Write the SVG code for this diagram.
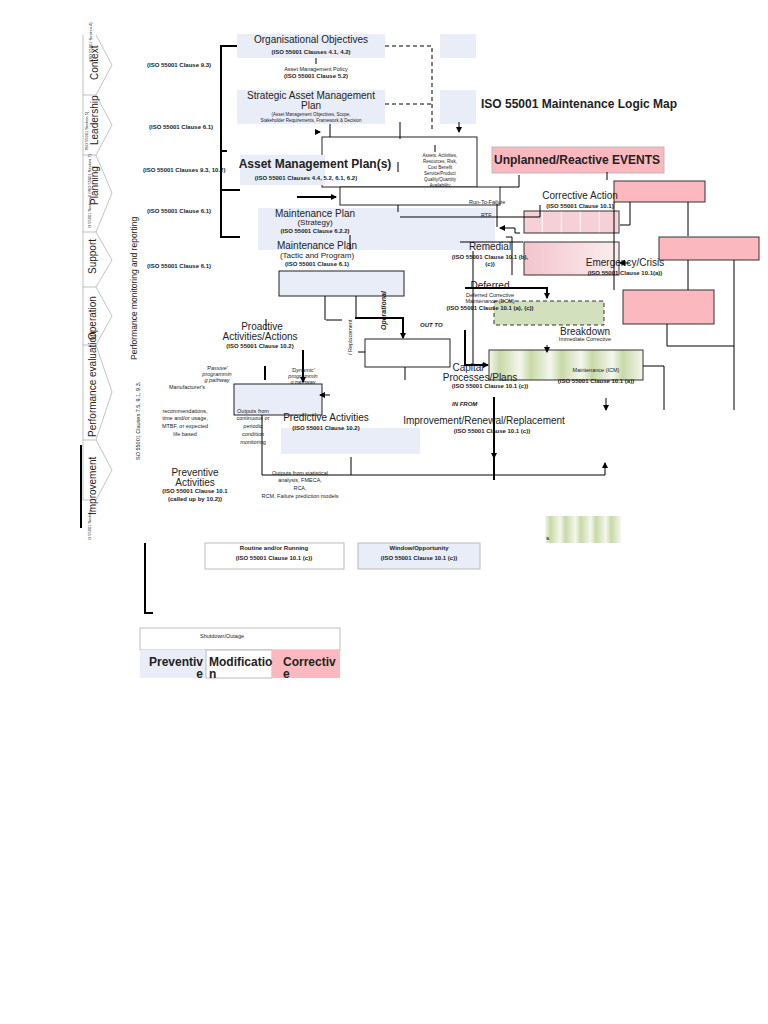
<svg xmlns="http://www.w3.org/2000/svg" width="768" height="1024" viewBox="0 0 768 1024">
<defs>
<marker id="ah" markerWidth="6" markerHeight="6" refX="5" refY="3" orient="auto" markerUnits="userSpaceOnUse"><path d="M0,0L6,3L0,6z" fill="#000"/></marker>
<linearGradient id="pk" x1="0" x2="1"><stop offset="0" stop-color="#f3c4cc"/><stop offset="1" stop-color="#fbeef0"/></linearGradient>
<linearGradient id="gs" x1="0" x2="0.2" spreadMethod="repeat"><stop offset="0" stop-color="#f4f7ee"/><stop offset=".35" stop-color="#c8d9a6"/><stop offset="1" stop-color="#f4f7ee"/></linearGradient>
<linearGradient id="pks" x1="0" x2="0.2" spreadMethod="repeat"><stop offset="0" stop-color="#f6d0d6"/><stop offset=".9" stop-color="#f6d0d6"/><stop offset="1" stop-color="#fff"/></linearGradient>
</defs>
<style>
text{font-family:"Liberation Sans",Arial,sans-serif;fill:#222}
.t{font-size:10px}.b{font-size:6px;font-weight:bold}.s{font-size:5.5px}
.bl{fill:#e8edf7;stroke:none}.w{fill:#fff;stroke:#222;stroke-width:1}
.l{fill:none;stroke:#000;stroke-width:1}.l2{fill:none;stroke:#000;stroke-width:2}
.pk{fill:#fcb8bf;stroke:#333;stroke-width:1}
.ch{fill:none;stroke:#999;stroke-width:.6}
</style>
<rect width="768" height="1024" fill="#fff"/>
<g id="chevrons">
<path class="ch" d="M83,35V500M83,95H96M83,155H96M83,232H96M83,287H96M83,345H96M83,440H96M83,500H96M96,35L112,65L96,95L112,125L96,155L112,193L96,232L112,260L96,287L112,316L96,345L112,392L96,440L112,470L96,500"/>
<line x1="81" y1="445" x2="81" y2="528" stroke="#000" stroke-width="2"/>
<text class="t" transform="translate(98,80) rotate(-90)">Context</text>
<text class="t" transform="translate(98,145) rotate(-90)">Leadership</text>
<text class="t" transform="translate(98,205) rotate(-90)">Planning</text>
<text class="t" transform="translate(96,274) rotate(-90)">Support</text>
<text class="t" transform="translate(96,340) rotate(-90)">Operation</text>
<text class="t" transform="translate(96,437) rotate(-90)">Performance evaluation</text>
<text class="t" transform="translate(96,515) rotate(-90)">Improvement</text>
<text class="s" style="font-size:4px" transform="translate(92,62) rotate(-90)">(ISO 55001 Section 4)</text>
<text class="s" style="font-size:4px" transform="translate(88,150) rotate(-90)">ISO 55001 Section 5)</text>
<text class="s" style="font-size:4px" transform="translate(91,228) rotate(-90)">O 55001 Section 6 (ISO 55001 Section 7)</text>
<text class="s" style="font-size:4px" transform="translate(91,540) rotate(-90)">O 55001 Section</text>
<text class="t" transform="translate(137,360) rotate(-90)" style="font-size:8.5px">Performance monitoring and reporting</text>
<text class="s" transform="translate(140,460) rotate(-90)">SO 55001 Clauses 7.5, 9.1, 9.3,</text>
</g>
<g id="clauses">
<text class="b" x="147" y="67">(ISO 55001 Clause 9.3)</text>
<text class="b" x="149" y="129">(ISO 55001 Clause 6.1)</text>
<text class="b" x="143" y="172">(ISO 55001 Clauses 9.3, 10.2)</text>
<text class="b" x="147" y="213">(ISO 55001 Clause 6.1)</text>
<text class="b" x="147" y="268">(ISO 55001 Clause 6.1)</text>
<path class="l2" d="M240,46H221V237H240M221,151H227M221,190H240"/>
<path class="l2" d="M145,543V613H153"/>
</g>
<g id="n-org"><rect class="bl" x="237" y="34" width="148" height="24"/><text x="311" y="43" text-anchor="middle" class="t">Organisational Objectives</text><text class="b" x="311" y="54" text-anchor="middle">(ISO 55001 Clauses 4.1, 4.2)</text></g>
<rect class="bl" x="440" y="34" width="36" height="24"/>
<text class="s" x="316" y="71" text-anchor="middle">Asset Management Policy</text><text class="b" x="316" y="78" text-anchor="middle">(ISO 55001 Clause 5.2)</text>
<g id="n-samp"><rect class="bl" x="237" y="90" width="148" height="34"/><text x="311" y="99" text-anchor="middle" class="t">Strategic Asset Management</text><text x="311" y="109" text-anchor="middle" class="t">Plan</text><text class="s" x="311" y="116" text-anchor="middle" style="font-size:4.5px">(Asset Management Objectives, Scope,</text><text class="s" x="311" y="122" text-anchor="middle" style="font-size:4.5px">Stakeholder Requirements, Framework &amp; Decision</text></g>
<rect class="bl" x="440" y="90" width="36" height="34"/>
<text x="481" y="108" style="font-size:12px;font-weight:bold">ISO 55001 Maintenance Logic Map</text>
<g id="n-amp"><rect class="w" x="322" y="137" width="155" height="50"/><rect class="bl" x="240" y="155" width="85" height="30"/><text x="315" y="168" text-anchor="middle" style="font-size:12px;font-weight:bold">Asset Management Plan(s)</text><text class="b" x="306" y="180" text-anchor="middle">(ISO 55001 Clauses 4.4, 5.2, 6.1, 6.2)</text>
<text class="s" x="440" y="157" text-anchor="middle" style="font-size:4.5px">Assets, Activities,</text><text class="s" x="440" y="163" text-anchor="middle" style="font-size:4.5px">Resources, Risk,</text><text class="s" x="440" y="169" text-anchor="middle" style="font-size:4.5px">Cost Benefit</text><text class="s" x="440" y="175" text-anchor="middle" style="font-size:4.5px">Service/Product</text><text class="s" x="440" y="181" text-anchor="middle" style="font-size:4.5px">Quality/Quantity</text><text class="s" x="440" y="187" text-anchor="middle" style="font-size:4.5px">Availability</text></g>
<rect class="w" x="340" y="187" width="160" height="18"/>
<g id="n-mps"><rect class="bl" x="258" y="208" width="237" height="42" /><text x="315" y="217" text-anchor="middle" class="t">Maintenance Plan</text><text x="315" y="225" text-anchor="middle" style="font-size:8px">(Strategy)</text><text class="b" x="315" y="233" text-anchor="middle">(ISO 55001 Clause 6.2.2)</text><text x="317" y="249" text-anchor="middle" class="t">Maintenance Plan</text><text x="317" y="258" text-anchor="middle" style="font-size:8px">(Tactic and Program)</text><text class="b" x="317" y="266" text-anchor="middle">(ISO 55001 Clause 6.1)</text></g>
<g id="n-unp"><rect class="pk" x="492" y="147" width="172" height="26" style="stroke:#bbb"/><text x="577" y="164" text-anchor="middle" style="font-size:12px;font-weight:bold">Unplanned/Reactive EVENTS</text></g>
<rect class="pk" x="614" y="181" width="91" height="21"/>
<rect class="pk" x="659" y="237" width="100" height="23"/>
<rect class="pk" x="623" y="290" width="91" height="34"/>
<g id="n-corr"><rect x="524" y="211" width="95" height="22" fill="url(#pks)" stroke="#333"/><text x="580" y="199" text-anchor="middle" class="t">Corrective Action</text><text class="b" x="580" y="208" text-anchor="middle">(ISO 55001 Clause 10.1)</text></g>
<g id="n-rem"><rect x="524" y="242" width="95" height="33" fill="url(#pk)" stroke="#333"/><text x="490" y="250" text-anchor="middle" class="t">Remedial</text><text class="b" x="490" y="259" text-anchor="middle">(ISO 55001 Clause 10.1 (b),</text><text class="b" x="490" y="266" text-anchor="middle">(c))</text><text x="625" y="266" text-anchor="middle" class="t">Emergency/Crisis</text><text class="b" x="625" y="275" text-anchor="middle">(ISO 55001 Clause 10.1(a))</text></g>
<g id="n-def"><rect x="494" y="301" width="110" height="24" fill="#d3e0bd" stroke="#333" stroke-dasharray="4,3"/><text x="490" y="289" text-anchor="middle" class="t">Deferred</text><text class="s" x="490" y="297" text-anchor="middle">Deferred Corrective</text><text class="s" x="490" y="303" text-anchor="middle">Maintenance (DCM)</text><text class="b" x="490" y="310" text-anchor="middle">(ISO 55001 Clause 10.1 (a), (c))</text></g>
<g id="n-bd"><rect x="489" y="350" width="154" height="30" fill="url(#gs)" stroke="#333"/><text x="585" y="335" text-anchor="middle" class="t">Breakdown</text><text class="s" x="585" y="341" text-anchor="middle">Immediate Corrective</text><text class="s" x="596" y="372" text-anchor="middle">Maintenance (ICM)</text><text class="b" x="596" y="383" text-anchor="middle">(ISO 55001 Clause 10.1 (a))</text></g>
<rect class="bl" x="279" y="271" width="125" height="25" style="stroke:#222"/>
<rect class="w" x="365" y="339" width="85" height="28"/>
<g id="n-pro"><text x="262" y="330" text-anchor="middle" class="t">Proactive</text><text x="260" y="340" text-anchor="middle" class="t">Activities/Actions</text><text class="b" x="260" y="348" text-anchor="middle">(ISO 55001 Clause 10.2)</text></g>
<text class="s" x="217" y="370" text-anchor="middle" style="font-style:italic">'Passive'</text><text class="s" x="217" y="376" text-anchor="middle" style="font-style:italic">programmin</text><text class="s" x="217" y="382" text-anchor="middle" style="font-style:italic">g pathway</text>
<text class="s" x="303" y="372" text-anchor="middle" style="font-style:italic">'Dynamic'</text><text class="s" x="303" y="378" text-anchor="middle" style="font-style:italic">programmin</text><text class="s" x="303" y="384" text-anchor="middle" style="font-style:italic">g pathway</text>
<text class="s" x="187" y="389" text-anchor="middle">Manufacturer's</text>
<text class="s" x="185" y="413" text-anchor="middle">recommendations,</text><text class="s" x="185" y="420" text-anchor="middle">time and/or usage,</text><text class="s" x="185" y="428" text-anchor="middle">MTBF, or expected</text><text class="s" x="185" y="436" text-anchor="middle">life based</text>
<g id="n-pred"><rect class="bl" x="234" y="384" width="88" height="31" style="stroke:#222"/><rect class="bl" x="281" y="428" width="139" height="26"/><text x="326" y="421" text-anchor="middle" class="t">Predictive Activities</text><text class="b" x="326" y="430" text-anchor="middle">(ISO 55001 Clause 10.2)</text>
<text class="s" x="253" y="413" text-anchor="middle">Outputs from</text><text class="s" x="253" y="420" text-anchor="middle">continuous or</text><text class="s" x="253" y="428" text-anchor="middle">periodic</text><text class="s" x="253" y="436" text-anchor="middle">condition</text><text class="s" x="253" y="444" text-anchor="middle">monitoring</text></g>
<g id="n-prev"><text x="195" y="476" text-anchor="middle" class="t">Preventive</text><text x="195" y="486" text-anchor="middle" class="t">Activities</text><text class="b" x="195" y="493" text-anchor="middle">(ISO 55001 Clause 10.1</text><text class="b" x="195" y="501" text-anchor="middle">(called up by 10.2))</text></g>
<text class="s" x="300" y="475" text-anchor="middle">Outputs from statistical</text><text class="s" x="300" y="482" text-anchor="middle">analysis, FMECA,</text><text class="s" x="300" y="490" text-anchor="middle">RCA,</text><text class="s" x="300" y="498" text-anchor="middle">RCM, Failure prediction models</text>
<text x="468" y="371" text-anchor="middle" class="t">Capital</text>
<text x="480" y="381" text-anchor="middle" class="t">Processes/Plans</text><text class="b" x="490" y="388" text-anchor="middle">(ISO 55001 Clause 10.1 (c))</text>
<text x="484" y="424" text-anchor="middle" class="t">Improvement/Renewal/Replacement</text><text class="b" x="492" y="433" text-anchor="middle">(ISO 55001 Clause 10.1 (c))</text>
<text class="b" x="420" y="327" style="font-style:italic">OUT TO</text><text class="b" x="452" y="406" style="font-style:italic">IN FROM</text>
<text class="s" transform="translate(386,330) rotate(-90)" style="font-size:7px;font-weight:bold;font-style:italic">Operational</text>
<text class="s" transform="translate(352,355) rotate(-90)">/ Replacement</text>
<text class="s" x="469" y="204">Run-To-Failure</text><text class="s" x="481" y="217">RTF</text>
<g id="n-leg">
<rect x="545" y="516" width="76" height="27" fill="url(#gs)"/><text class="b" x="546" y="540">s</text>
<rect class="w" x="205" y="543" width="139" height="26" style="stroke:#bbb"/><text class="b" x="274" y="550" text-anchor="middle">Routine and/or Running</text><text class="b" x="274" y="560" text-anchor="middle">(ISO 55001 Clause 10.1 (c))</text>
<rect class="bl" x="358" y="543" width="122" height="26" style="stroke:#bbb"/><text class="b" x="419" y="550" text-anchor="middle">Window/Opportunity</text><text class="b" x="419" y="560" text-anchor="middle">(ISO 55001 Clause 10.1 (c))</text>
<rect class="w" x="140" y="628" width="200" height="22" style="stroke:#bbb"/><text class="s" x="222" y="638" text-anchor="middle">Shutdown/Outage</text>
<rect class="bl" x="140" y="650" width="66" height="28"/><rect class="w" x="206" y="650" width="66" height="28" style="stroke:#bbb"/><rect x="272" y="650" width="68" height="28" fill="#fcb8bf"/>
<text x="203" y="666" text-anchor="end" style="font-size:12px;font-weight:bold">Preventiv</text><text x="203" y="678" text-anchor="end" style="font-size:12px;font-weight:bold">e</text>
<text x="209" y="666" style="font-size:12px;font-weight:bold">Modificatio</text><text x="209" y="678" style="font-size:12px;font-weight:bold">n</text>
<text x="283" y="666" style="font-size:12px;font-weight:bold">Correctiv</text><text x="283" y="678" style="font-size:12px;font-weight:bold">e</text>
</g>
<g id="connectors">
<path class="l" d="M385,46H432V130M385,104H432" stroke-dasharray="4,3"/>
<path class="l" d="M316,58V64"/>
<path class="l" d="M400,122V139M330,124V137M459,122V132" marker-end="url(#ah)"/>
<path class="l" d="M435,145V152M398,162V172M398,205V212M315,132H320" marker-end="url(#ah)"/>
<path class="l2" d="M297,197H336" marker-end="url(#ah)"/>
<path class="l" d="M500,187H519V175M497,204V227M400,217H540V205M350,235V250" />
<path class="l" d="M520,233H515V228H500" marker-end="url(#ah)"/>
<path class="l" d="M607,172V180M630,202V225H620M630,263H620" marker-end="url(#ah)"/>
<path class="l" d="M614,202V290M688,202V236M688,260V290M734,260V410M667,324V346H734M643,366H664V410M606,398V410" marker-end="url(#ah)"/>
<path class="l" d="M506,237H512V275M473,251V365M460,242H523" />
<path class="l2" d="M465,288H547V298" marker-end="url(#ah)"/>
<path class="l2" d="M465,330V365H488" marker-end="url(#ah)"/>
<path class="l" d="M547,345V352" marker-end="url(#ah)"/>
<path class="l2" d="M494,397V480" />
<path class="l2" d="M494,440V458" marker-end="url(#ah)"/>
<path class="l2" d="M355,318H403V338" marker-end="url(#ah)"/>
<path class="l" d="M325,296V320M356,296V318M326,320H342M365,352H358M405,367V380M266,330V319" />
<path class="l2" d="M265,366V380M303,350V382" marker-end="url(#ah)"/>
<path class="l" d="M330,395H320" marker-end="url(#ah)"/>
<path class="l" d="M262,415V475H605" />
<path class="l" d="M351,475V457M494,475V457M605,475V463" marker-end="url(#ah)"/>
</g>
</svg>
